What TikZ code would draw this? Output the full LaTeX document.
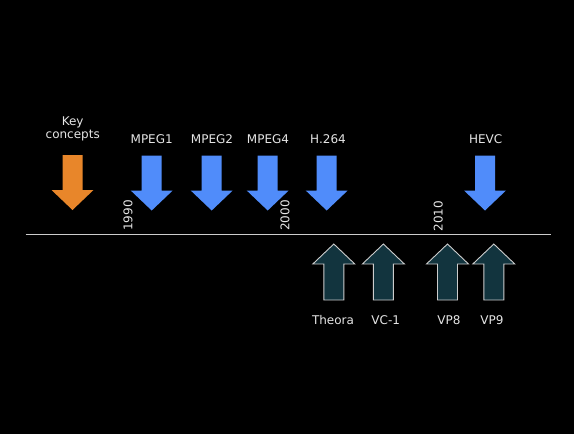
\documentclass[tikz,border=0pt]{standalone}
\usepackage{fontspec}
\setmainfont{DejaVu Sans}
\begin{document}
\begin{tikzpicture}[x=1pt,y=-1pt,
  lbl/.style={text=white!90!black,font=\fontsize{12}{14}\selectfont,inner sep=0pt},
  yearlbl/.style={lbl,rotate=90,anchor=west},
  pics/downarr/.style={code={
    \fill[#1] (-10,0) -- (10,0) -- (10,35) -- (21,35) -- (0,55) -- (-21,35) -- (-10,35) -- cycle;}},
  pics/uparr/.style={code={
    \filldraw[fill=uptealfill,draw=white!80!black,line width=0.9pt] (0,0) -- (21,20) -- (10,20) -- (10,56) -- (-10,56) -- (-10,20) -- (-21,20) -- cycle;}}
]
\definecolor{keyorange}{RGB}{232,134,42}
\definecolor{codecblue}{RGB}{80,140,250}
\definecolor{uptealfill}{RGB}{18,52,62}
\useasboundingbox (0,0) rectangle (574,434);
\fill[black] (0,0) rectangle (574,434);
% timeline
\coordinate (tlL) at (25.5,234.3);
\coordinate (tlR) at (551,234.3);
\draw[white!80!black,line width=0.9pt] (tlL) -- (tlR);
% years
\node[yearlbl] (y1990) at (128,231) {1990};
\node[yearlbl] (y2000) at (285,231) {2000};
\node[yearlbl] (y2010) at (438.3,231.5) {2010};
% down arrows
\pic (akey) at (72.5,155) {downarr=keyorange};
\pic (ampeg1) at (151.7,155.5) {downarr=codecblue};
\pic (ampeg2) at (211.7,155.5) {downarr=codecblue};
\pic (ampeg4) at (267.7,155.5) {downarr=codecblue};
\pic (ah264) at (326.7,155.5) {downarr=codecblue};
\pic (ahevc) at (485,155.5) {downarr=codecblue};
% top labels
\node[lbl,align=center] (lkey) at (72.7,129) {Key\\[-0.5pt]concepts};
\node[lbl] (lmpeg1) at (151.7,139.5) {MPEG1};
\node[lbl] (lmpeg2) at (212,139.5) {MPEG2};
\node[lbl] (lmpeg4) at (268,139.5) {MPEG4};
\node[lbl] (lh264) at (328,139.5) {H.264};
\node[lbl] (lhevc) at (485.7,139.5) {HEVC};
% up arrows
\pic (atheora) at (333.8,244) {uparr};
\pic (avc1) at (383.4,244) {uparr};
\pic (avp8) at (447.5,244) {uparr};
\pic (avp9) at (493.8,244) {uparr};
% bottom labels
\node[lbl] (ltheora) at (333,320) {Theora};
\node[lbl] (lvc1) at (385.7,320) {VC-1};
\node[lbl] (lvp8) at (449,320) {VP8};
\node[lbl] (lvp9) at (492,320) {VP9};
\end{tikzpicture}
\end{document}
